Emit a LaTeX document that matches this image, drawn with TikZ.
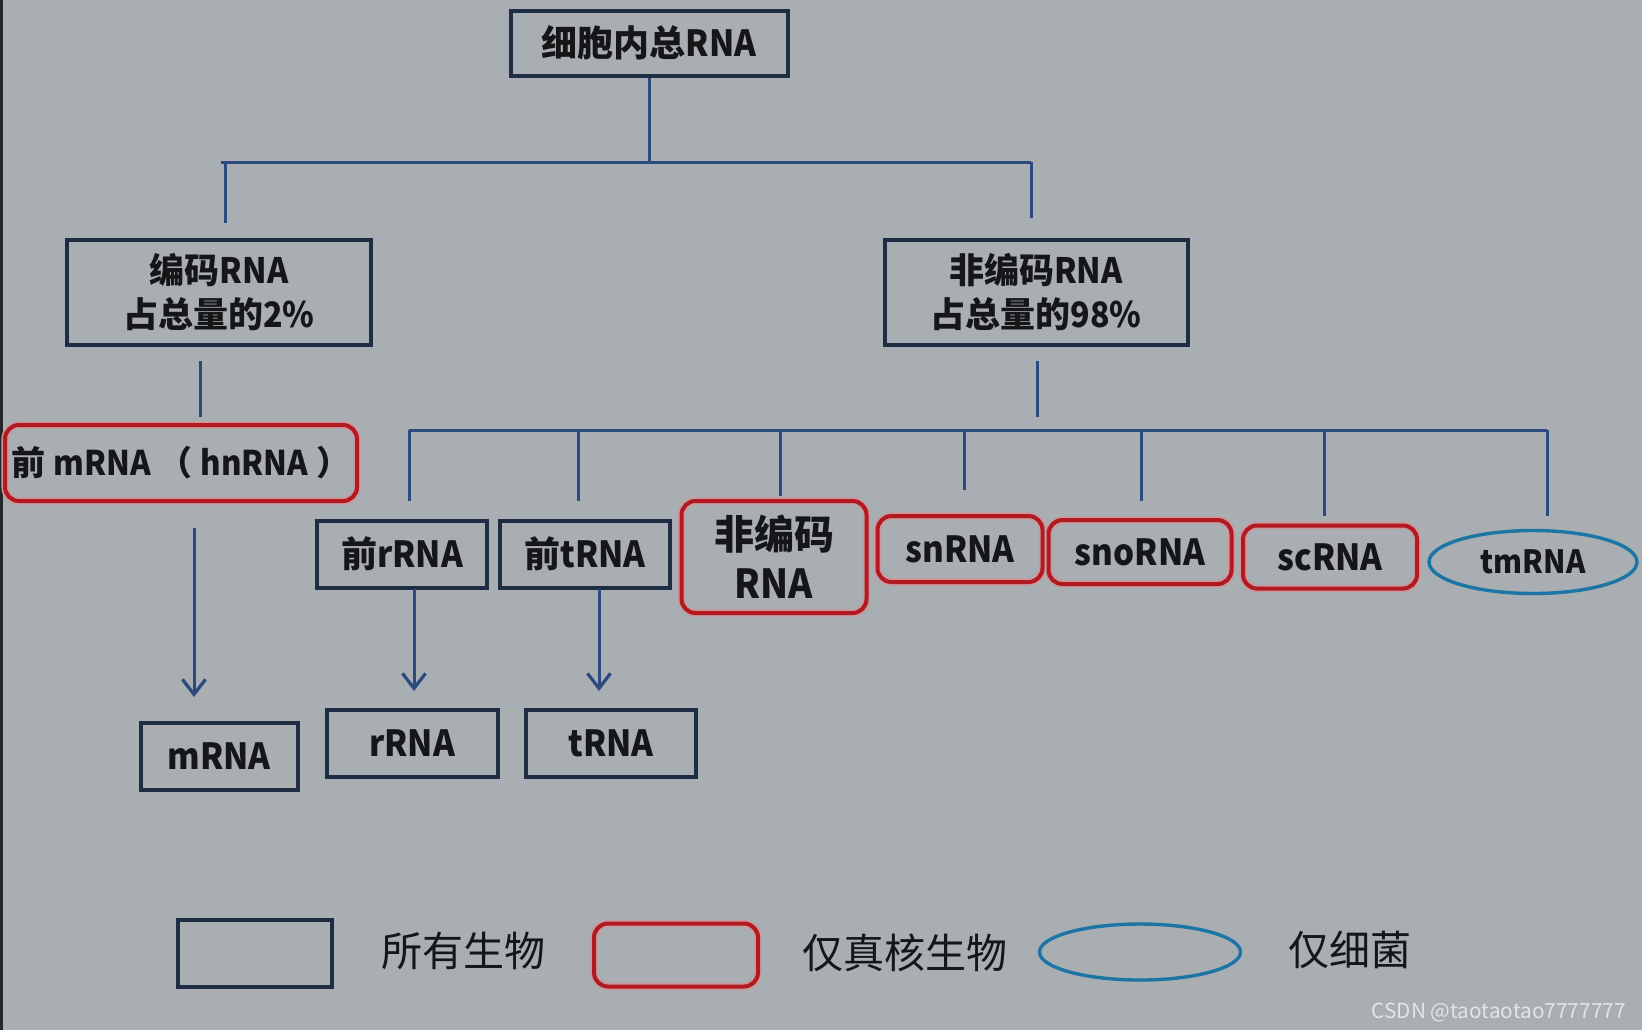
\documentclass[tikz,border=0pt]{standalone}
\usepackage{fontspec}
\setmainfont{Noto Sans CJK SC}
\newfontfamily\latn{Noto Sans CJK SC}[FakeStretch=0.92]
\newcommand\latb[1]{{\latn #1}}
\usetikzlibrary{arrows.meta,shapes.geometric}
\definecolor{bg}{RGB}{168,174,177}
\definecolor{navy}{RGB}{30,44,68}
\definecolor{conn}{RGB}{44,74,125}
\definecolor{rd}{RGB}{176,26,32}
\definecolor{rdglow}{RGB}{205,150,155}
\definecolor{elb}{RGB}{28,118,165}
\definecolor{txt}{RGB}{22,22,24}
\definecolor{wm}{RGB}{226,229,231}
\begin{document}
\begin{tikzpicture}[x=0.5pt,y=-0.5pt,
  allbox/.style={draw=navy, line width=2pt, inner sep=0pt, text=txt, align=center,
    font=\bfseries\fontsize{18}{22}\selectfont},
  eubox/.style={draw=rd, line width=2pt, rounded corners=7pt, inner sep=0pt, text=txt, align=center,
    preaction={draw=rdglow, line width=3.6pt},
    font=\bfseries\fontsize{18}{22}\selectfont},
  bacbox/.style={ellipse, draw=elb, line width=1.7pt, inner sep=0pt, text=txt, align=center,
    font=\bfseries\fontsize{16}{18}\selectfont},
  legtext/.style={text=txt, inner sep=0pt, font=\fontsize{20.5}{24}\selectfont},
  link/.style={draw=conn, line width=1.5pt},
  arr/.style={link, -{Straight Barb[length=7.5pt,width=11.5pt,line width=1.6pt]}}]
\useasboundingbox (0,0) rectangle (1642,1030);
\fill[bg] (0,0) rectangle (1642,1030);
\fill[black!85] (0,0) rectangle (3,1030);

% level 0 and 1
\node[allbox, minimum width=138.5pt, minimum height=32.5pt] (top) at (649,43) {细胞内总\latb{RNA}};
\node[allbox, minimum width=152pt, minimum height=52.5pt, font=\bfseries\fontsize{17.5}{22}\selectfont] (cod) at (219,292) {编码\latb{RNA}\\占总量的\latb{2\%}};
\node[allbox, minimum width=151.5pt, minimum height=52.5pt, font=\bfseries\fontsize{17.5}{22}\selectfont] (ncod) at (1036,292) {非编码\latb{RNA}\\占总量的\latb{98\%}};

% coding branch
\node[eubox, minimum width=176pt, minimum height=38pt, font=\bfseries\fontsize{17}{20}\selectfont] (hn) at (181,463) {前 \latb{mRNA} （ \latb{hnRNA} ）};
\node[allbox, minimum width=78.5pt, minimum height=33.5pt] (mrna) at (219,756) {\latb{mRNA}};

% non-coding branch
\node[allbox, minimum width=85pt, minimum height=33.5pt] (prer) at (402,554) {前\latb{rRNA}};
\node[allbox, minimum width=85pt, minimum height=33.5pt] (pret) at (585,554) {前\latb{tRNA}};
\node[eubox, minimum width=92.5pt, minimum height=56pt, font=\bfseries\fontsize{20}{24.5}\selectfont] (ncr) at (774,557) {非编码\\\latb{RNA}};
\node[eubox, minimum width=82.5pt, minimum height=33pt] (sn) at (960,549) {\latb{snRNA}};
\node[eubox, minimum width=91.5pt, minimum height=32pt] (sno) at (1140,552) {\latb{snoRNA}};
\node[eubox, minimum width=87pt, minimum height=31.5pt] (sc) at (1330,557) {\latb{scRNA}};
\node[bacbox, minimum width=104pt, minimum height=31.5pt] (tm) at (1533,562) {\latb{tmRNA}};
\node[allbox, minimum width=85.5pt, minimum height=33.5pt] (rrna) at (412,743) {\latb{rRNA}};
\node[allbox, minimum width=85pt, minimum height=33.5pt] (trna) at (611,743) {\latb{tRNA}};

% connector coordinates
\coordinate (j1) at (649,162);
\coordinate (bl) at (221,162);
\coordinate (br) at (1031,162);
\coordinate (dl1) at (225,162);
\coordinate (dl2) at (225,223);
\coordinate (dr2) at (1031,218);
\coordinate (c1) at (200,361);
\coordinate (c2) at (200,417);
\coordinate (n1) at (1037,361);
\coordinate (n2) at (1037,417);
\coordinate (b0) at (409,430);
\coordinate (b7) at (1547,430);
\coordinate (e1) at (409,501);
\coordinate (e2) at (578,501);
\coordinate (e3) at (780,496);
\coordinate (e4) at (964,490);
\coordinate (e5) at (1141,501);
\coordinate (e6) at (1324,516);
\coordinate (e7) at (1547,516);
\coordinate (am1) at (194,528);
\coordinate (am2) at (194,697);
\coordinate (ar1) at (414,589);
\coordinate (ar2) at (414,691);
\coordinate (at1) at (599,589);
\coordinate (at2) at (599,691);

\draw[link] (top.south) -- (j1);
\draw[link] (bl) -- (br);
\draw[link] (dl1) -- (dl2);
\draw[link] (br) -- (dr2);
\draw[link] (c1) -- (c2);
\draw[link] (n1) -- (n2);
\draw[link] (b0) -- (b7);
\foreach \e in {e1,e2,e3,e4,e5,e6,e7} {\draw[link] (b0 -| \e) -- (\e);}
\draw[arr] (am1) -- (am2);
\draw[arr] (ar1) -- (ar2);
\draw[arr] (at1) -- (at2);

% legend
\node[allbox, minimum width=77pt, minimum height=33.5pt] (lg1) at (255,953) {};
\node[legtext] (lg1t) at (463,951) {所有生物};
\node[eubox, minimum width=82pt, minimum height=31.5pt] (lg2) at (676,955) {};
\node[legtext] (lg2t) at (905,953) {仅真核生物};
\node[bacbox, minimum width=100.5pt, minimum height=28pt] (lg3) at (1140,952) {};
\node[legtext] (lg3t) at (1350,950) {仅细菌};

% watermark
\node[anchor=east, text=wm, inner sep=0pt, font=\fontsize{10.4}{12}\selectfont] (wmk) at (1626,1013) {CSDN @taotaotao7777777};
\end{tikzpicture}
\end{document}
